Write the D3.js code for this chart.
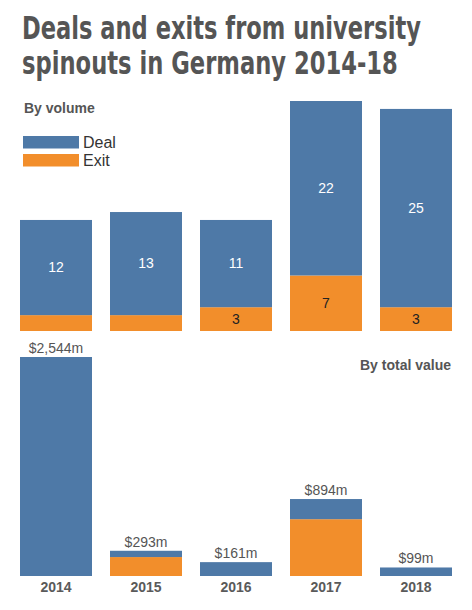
<!DOCTYPE html>
<html>
<head>
<meta charset="utf-8">
<script src="https://cdn.jsdelivr.net/npm/d3@7"></script>
<style>
  body { margin: 0; background: #fff; }
  svg { display: block; }
</style>
</head>
<body>
<div id="chart"></div>
<script>
// data
const years = ['2014', '2015', '2016', '2017', '2018'];
const dealCount = [12, 13, 11, 22, 25];
const exitCount = [2, 2, 3, 7, 3];
const dealValue = [2544, 73, 161, 234, 99];
const exitValue = [0, 220, 0, 660, 0];
const totalValue = [2544, 293, 161, 894, 99];

const W = 472, H = 610;
const blue = '#4e79a7', orange = '#f28e2b';

const svg = d3.select('#chart').append('svg')
    .attr('width', W)
    .attr('height', H);

// title, squeezed horizontally to the width of the condensed original
const titleLines = [
    { text: 'Deals and exits from university', y: 39, len: 399 },
    { text: 'spinouts in Germany 2014-18', y: 74, len: 376 }
];
svg.selectAll('text.title')
    .data(titleLines)
    .enter()
    .append('text')
    .attr('class', 'title')
    .style('font-family', '"DejaVu Sans Condensed", "Liberation Sans Narrow", sans-serif')
    .style('font-weight', 'bold')
    .style('font-size', '32px')
    .style('fill', '#555')
    .text(d => d.text)
    .attr('transform', function(d) {
        const w = this.getComputedTextLength();
        return `translate(22, ${d.y}) scale(${d.len / w}, 1)`;
    });

const x = d3.scaleBand()
    .domain(years)
    .range([11, 461])
    .paddingInner(0.2)
    .paddingOuter(0.1);

// ---- by volume
const yTop = d3.scaleLinear().domain([0, 29]).range([331, 101]);

const gTop = svg.append('g');
gTop.selectAll('rect.exit')
    .data(years)
    .enter()
    .append('rect')
    .attr('x', d => x(d))
    .attr('width', x.bandwidth())
    .attr('y', (d, i) => yTop(exitCount[i]))
    .attr('height', (d, i) => yTop(0) - yTop(exitCount[i]))
    .attr('fill', orange);

gTop.selectAll('rect.deal')
    .data(years)
    .enter()
    .append('rect')
    .attr('x', d => x(d))
    .attr('width', x.bandwidth())
    .attr('y', (d, i) => yTop(exitCount[i] + dealCount[i]))
    .attr('height', (d, i) => yTop(exitCount[i]) - yTop(exitCount[i] + dealCount[i]))
    .attr('fill', blue);

gTop.selectAll('text.deal')
    .data(years)
    .enter()
    .append('text')
    .attr('x', d => x(d) + x.bandwidth() / 2)
    .attr('y', (d, i) => (yTop(exitCount[i]) + yTop(exitCount[i] + dealCount[i])) / 2)
    .attr('dy', '0.35em')
    .attr('text-anchor', 'middle')
    .style('font-family', 'Arial, "Liberation Sans", sans-serif')
    .style('font-size', '14px')
    .style('fill', '#fff')
    .text((d, i) => dealCount[i]);

// small exit counts do not fit in the bar
gTop.selectAll('text.exit')
    .data(years.filter((d, i) => exitCount[i] >= 3))
    .enter()
    .append('text')
    .attr('x', d => x(d) + x.bandwidth() / 2)
    .attr('y', d => (yTop(0) + yTop(exitCount[years.indexOf(d)])) / 2)
    .attr('dy', '0.35em')
    .attr('text-anchor', 'middle')
    .style('font-family', 'Arial, "Liberation Sans", sans-serif')
    .style('font-size', '14px')
    .style('fill', '#222')
    .text(d => exitCount[years.indexOf(d)]);

svg.append('text')
    .attr('x', 24)
    .attr('y', 113)
    .style('font-family', 'Arial, "Liberation Sans", sans-serif')
    .style('font-weight', 'bold')
    .style('font-size', '14px')
    .style('fill', '#555')
    .text('By volume');

// legend
const legend = [
    { name: 'Deal', color: blue },
    { name: 'Exit', color: orange }
];
const lg = svg.selectAll('g.legend')
    .data(legend)
    .enter()
    .append('g')
    .attr('transform', (d, i) => `translate(23, ${136 + i * 18})`);
lg.append('rect')
    .attr('width', 56)
    .attr('height', 12.5)
    .attr('fill', d => d.color);
lg.append('text')
    .attr('x', 60)
    .attr('y', 11.5)
    .style('font-family', 'Arial, "Liberation Sans", sans-serif')
    .style('font-size', '16px')
    .style('fill', '#333')
    .text(d => d.name);

// ---- by total value
const yBot = d3.scaleLinear().domain([0, 2544]).range([576, 357]);

const gBot = svg.append('g');
gBot.selectAll('rect.exit')
    .data(years)
    .enter()
    .append('rect')
    .attr('x', d => x(d))
    .attr('width', x.bandwidth())
    .attr('y', (d, i) => yBot(exitValue[i]))
    .attr('height', (d, i) => yBot(0) - yBot(exitValue[i]))
    .attr('fill', orange);

gBot.selectAll('rect.deal')
    .data(years)
    .enter()
    .append('rect')
    .attr('x', d => x(d))
    .attr('width', x.bandwidth())
    .attr('y', (d, i) => yBot(exitValue[i] + dealValue[i]))
    .attr('height', (d, i) => yBot(exitValue[i]) - yBot(exitValue[i] + dealValue[i]))
    .attr('fill', blue);

gBot.selectAll('text.total')
    .data(years)
    .enter()
    .append('text')
    .attr('x', d => x(d) + x.bandwidth() / 2)
    .attr('y', (d, i) => yBot(exitValue[i] + dealValue[i]) - 4)
    .attr('text-anchor', 'middle')
    .style('font-family', 'Arial, "Liberation Sans", sans-serif')
    .style('font-size', '14px')
    .style('fill', '#555')
    .text((d, i) => '$' + d3.format(',')(totalValue[i]) + 'm');

svg.append('text')
    .attr('x', 451)
    .attr('y', 370)
    .attr('text-anchor', 'end')
    .style('font-family', 'Arial, "Liberation Sans", sans-serif')
    .style('font-weight', 'bold')
    .style('font-size', '14px')
    .style('fill', '#555')
    .text('By total value');

// year axis
const xAxis = svg.append('g')
    .attr('transform', 'translate(0, 576)')
    .call(d3.axisBottom(x).tickSize(0).tickPadding(6));
xAxis.select('.domain').remove();
xAxis.selectAll('text')
    .style('font-family', 'Arial, "Liberation Sans", sans-serif')
    .style('font-weight', 'bold')
    .style('font-size', '14px')
    .style('fill', '#5a5a5a');
</script>
</body>
</html>
